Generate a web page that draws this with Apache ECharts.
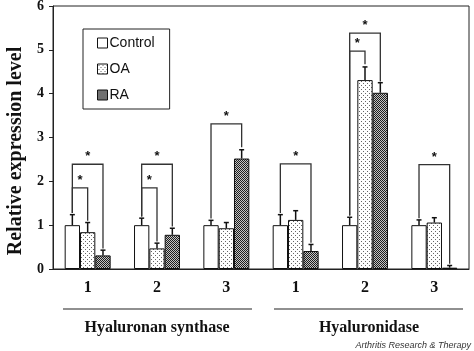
<!DOCTYPE html>
<html>
<head>
<meta charset="utf-8">
<script src="https://cdn.jsdelivr.net/npm/echarts@6/dist/echarts.min.js"></script>
<style>
  html, body { margin: 0; padding: 0; background: #fff; }
  #chart { width: 474px; height: 351px; }
</style>
</head>
<body>
<div id="chart"></div>
<script>
// data
var categories = ['1', '2', '3', '1', '2', '3'];
var groupNames = ['Hyaluronan synthase', 'Hyaluronidase'];
var seriesNames = ['Control', 'OA', 'RA'];
var controlVals = [1.0, 1.0, 1.0, 1.0, 1.0, 1.0];
var oaVals = [0.84, 0.47, 0.93, 1.12, 4.31, 1.06];
var raVals = [0.31, 0.78, 2.52, 0.41, 4.02, 0.03];
// top of the error bars
var controlErr = [1.24, 1.16, 1.11, 1.24, 1.18, 1.12];
var oaErr = [1.06, 0.59, 1.06, 1.33, 4.61, 1.17];
var raErr = [0.43, 0.93, 2.72, 0.56, 4.25, 0.08];
// significance brackets: [category, fromBar, toBar, level, leftLegEnd, rightLegEnd]
var brackets = [
  [0, 0, 2, 2.39, 1.28, 0.47],
  [0, 0, 1, 1.85, 1.28, 1.10],
  [1, 0, 2, 2.39, 1.20, 0.97],
  [1, 0, 1, 1.85, 1.20, 0.63],
  [2, 0, 2, 3.31, 1.15, 2.78],
  [3, 0, 2, 2.40, 1.28, 0.60],
  [4, 0, 2, 5.38, 1.22, 4.28],
  [4, 0, 1, 4.97, 1.22, 4.67],
  [5, 0, 2, 2.38, 1.16, 0.12]
];

function makePattern(kind) {
  var c = document.createElement('canvas');
  var ctx = c.getContext('2d');
  if (kind === 'dots') {
    c.width = 4; c.height = 4;
    ctx.fillStyle = '#fff';
    ctx.fillRect(0, 0, 4, 4);
    ctx.fillStyle = '#666';
    ctx.fillRect(1, 1, 1, 1);
    ctx.fillRect(3, 3, 1, 1);
  } else {
    c.width = 2; c.height = 2;
    ctx.fillStyle = '#c4c4c4';
    ctx.fillRect(0, 0, 2, 2);
    ctx.fillStyle = '#1e1e1e';
    ctx.fillRect(0, 0, 1, 1);
    ctx.fillRect(1, 1, 1, 1);
  }
  return { image: c, repeat: 'repeat' };
}

var fills = ['#fff', makePattern('dots'), makePattern('check')];
var valueSets = [controlVals, oaVals, raVals];
var errSets = [controlErr, oaErr, raErr];

var errData = [];
for (var s = 0; s < 3; s++) {
  for (var i = 0; i < categories.length; i++) {
    errData.push([i, s, valueSets[s][i], errSets[s][i]]);
  }
}

var BAR_FRAC = 0.221;
var SERIF = '"Liberation Serif", "Times New Roman", serif';

function barX(api, cat, bar) {
  var bw = api.size([1, 0])[0];
  return api.coord([cat, 0])[0] + (bar - 1) * bw * BAR_FRAC;
}

var myChart = echarts.init(document.getElementById('chart'));

var series = seriesNames.map(function (name, s) {
  return {
    name: name,
    type: 'bar',
    barWidth: '22.1%',
    barGap: '0%',
    data: valueSets[s],
    itemStyle: { color: fills[s], borderColor: '#111', borderWidth: 1 },
    emphasis: { disabled: true },
    z: 2
  };
});

series.push({
  type: 'custom',
  data: errData,
  z: 3,
  silent: true,
  renderItem: function (params, api) {
    var x = barX(api, api.value(0), api.value(1));
    var y0 = api.coord([0, api.value(2)])[1];
    var y1 = api.coord([0, api.value(3)])[1];
    return {
      type: 'group',
      children: [
        { type: 'line', shape: { x1: x, y1: y0, x2: x, y2: y1 }, style: { stroke: '#111', lineWidth: 1.5 } },
        { type: 'line', shape: { x1: x - 2.5, y1: y1, x2: x + 2.5, y2: y1 }, style: { stroke: '#111', lineWidth: 1.5 } }
      ]
    };
  }
});

series.push({
  type: 'custom',
  data: brackets,
  z: 4,
  silent: true,
  renderItem: function (params, api) {
    var cat = api.value(0);
    var xl = barX(api, cat, api.value(1));
    var xr = barX(api, cat, api.value(2));
    var yt = api.coord([0, api.value(3)])[1];
    var yl = api.coord([0, api.value(4)])[1];
    var yr = api.coord([0, api.value(5)])[1];
    return {
      type: 'group',
      children: [
        {
          type: 'polyline',
          shape: { points: [[xl, yl], [xl, yt], [xr, yt], [xr, yr]] },
          style: { stroke: '#333', lineWidth: 1.3, fill: null }
        },
        {
          type: 'text',
          style: {
            text: '*', x: (xl + xr) / 2, y: yt - 1,
            align: 'center', verticalAlign: 'bottom',
            font: 'bold 13px "Liberation Sans"', fill: '#111'
          }
        }
      ]
    };
  }
});

var option = {
  animation: false,
  grid: {
    left: 53, right: 5, top: 6, bottom: 82,
    outerBoundsMode: 'none',
    containLabel: false,
    show: true, borderColor: '#222', borderWidth: 1
  },
  legend: {
    orient: 'vertical',
    left: 83, top: 29,
    padding: [7, 15, 7, 14],
    itemGap: 12,
    itemWidth: 10, itemHeight: 10,
    icon: 'rect',
    borderColor: '#222', borderWidth: 1,
    selectedMode: false,
    data: seriesNames,
    itemStyle: { borderColor: '#111', borderWidth: 1 },
    textStyle: { fontFamily: 'Liberation Sans', fontSize: 14, color: '#111', padding: [0, 0, 0, -3] }
  },
  xAxis: {
    type: 'category',
    data: categories,
    axisLine: { lineStyle: { color: '#222', width: 1 } },
    axisTick: { show: false },
    axisLabel: {
      margin: 11,
      fontFamily: SERIF, fontWeight: 'bold', fontSize: 16, color: '#111'
    }
  },
  yAxis: {
    type: 'value',
    min: 0, max: 6, interval: 1,
    name: 'Relative expression level',
    nameLocation: 'middle',
    nameGap: 27,
    nameTextStyle: { fontFamily: SERIF, fontWeight: 'bold', fontSize: 20, color: '#111', padding: [0, 27, 0, 0] },
    splitLine: { show: false },
    axisLine: { show: true, lineStyle: { color: '#222', width: 1 } },
    axisTick: { show: true, length: 4, lineStyle: { color: '#222' } },
    axisLabel: {
      margin: 9,
      fontFamily: SERIF, fontWeight: 'bold', fontSize: 14, color: '#111'
    }
  },
  graphic: [
    { type: 'line', shape: { x1: 63, y1: 309, x2: 252, y2: 309 }, style: { stroke: '#222', lineWidth: 1.2 } },
    { type: 'line', shape: { x1: 274, y1: 309, x2: 463, y2: 309 }, style: { stroke: '#222', lineWidth: 1.2 } },
    {
      type: 'text', x: 157, y: 328,
      style: { text: groupNames[0], align: 'center', verticalAlign: 'middle',
        font: 'bold 16px ' + SERIF, fill: '#111' }
    },
    {
      type: 'text', x: 369, y: 328,
      style: { text: groupNames[1], align: 'center', verticalAlign: 'middle',
        font: 'bold 16px ' + SERIF, fill: '#111' }
    },
    {
      type: 'text', right: 3, bottom: 1,
      style: { text: 'Arthritis Research & Therapy', font: 'italic 9px "Liberation Sans"', fill: '#333' }
    }
  ],
  series: series
};

myChart.setOption(option);
</script>
</body>
</html>
